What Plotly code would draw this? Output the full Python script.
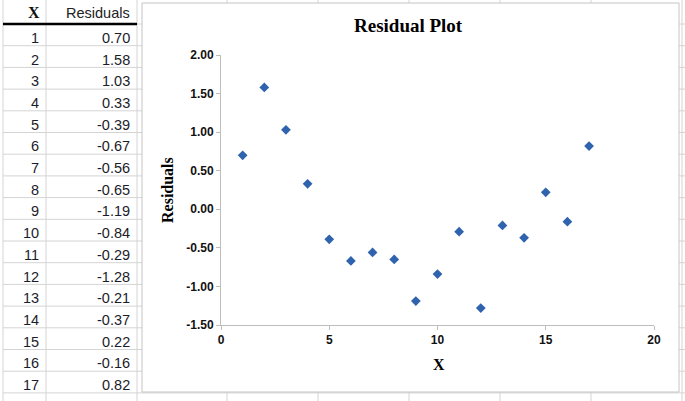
import plotly.graph_objects as go

# ---- data ----
x_values = list(range(1, 18))
residuals = [0.70, 1.58, 1.03, 0.33, -0.39, -0.67, -0.56, -0.65, -1.19,
             -0.84, -0.29, -1.28, -0.21, -0.37, 0.22, -0.16, 0.82]
col_headers = ["X", "Residuals"]
chart_title = "Residual Plot"
x_title = "X"
y_title = "Residuals"
x_ticks = [0, 5, 10, 15, 20]
y_ticks = [-1.5, -1.0, -0.5, 0.0, 0.5, 1.0, 1.5, 2.0]

W, H = 685, 401


def px(x):
    return x / W


def py(y):
    return 1 - y / H


fig = go.Figure()
fig.add_trace(go.Scatter(
    x=x_values, y=residuals, mode="markers",
    marker=dict(symbol="diamond", size=7.5, color="#2F63AE", line=dict(width=0)),
    hoverinfo="x+y", showlegend=False))

shapes = []
annotations = []
grid_col = "#d4d4d4"

# spreadsheet gridlines outside the chart
row_top = 24.0
row_h = 21.7
for k in range(0, 19):
    yy = row_top + k * row_h
    if yy > H:
        break
    shapes.append(dict(type="line", xref="paper", yref="paper", layer="below",
                       x0=px(137), x1=px(W), y0=py(yy), y1=py(yy),
                       line=dict(color=grid_col, width=1)))
for xx in [227, 318, 409, 500, 591, 682]:
    shapes.append(dict(type="line", xref="paper", yref="paper", layer="below",
                       x0=px(xx), x1=px(xx), y0=py(0), y1=py(H),
                       line=dict(color=grid_col, width=1)))

# table gridlines
for k in range(1, 19):
    yy = row_top + k * row_h
    shapes.append(dict(type="line", xref="paper", yref="paper", layer="below",
                       x0=px(3), x1=px(137), y0=py(yy), y1=py(yy),
                       line=dict(color=grid_col, width=1)))
for xx in [3, 46, 137]:
    shapes.append(dict(type="line", xref="paper", yref="paper", layer="below",
                       x0=px(xx), x1=px(xx), y0=py(0), y1=py(H),
                       line=dict(color=grid_col, width=1)))
# thick header underline
shapes.append(dict(type="line", xref="paper", yref="paper", layer="below",
                   x0=px(3), x1=px(137), y0=py(row_top), y1=py(row_top),
                   line=dict(color="#000000", width=2.5)))

# chart area (white box with border)
shapes.append(dict(type="rect", xref="paper", yref="paper", layer="below",
                   x0=px(142), x1=px(679), y0=py(392), y1=py(3),
                   fillcolor="white", line=dict(color="#c4c4c4", width=1)))

# table text
sans = "Liberation Sans, Arial, sans-serif"
serif = "Liberation Serif, Times New Roman, serif"
annotations.append(dict(text="<b>" + col_headers[0] + "</b>", xref="paper", yref="paper",
                        x=px(42), y=py(13), xanchor="right", yanchor="middle",
                        showarrow=False, font=dict(family=serif, size=16, color="#111")))
annotations.append(dict(text=col_headers[1], xref="paper", yref="paper",
                        x=px(132), y=py(13), xanchor="right", yanchor="middle",
                        showarrow=False, font=dict(family=sans, size=14.5, color="#222")))
for i, (xv, rv) in enumerate(zip(x_values, residuals)):
    yc = row_top + (i + 0.5) * row_h + 3
    annotations.append(dict(text=str(xv), xref="paper", yref="paper",
                            x=px(41), y=py(yc), xanchor="right", yanchor="middle",
                            showarrow=False, font=dict(family=sans, size=14.5, color="#1c1c2a")))
    annotations.append(dict(text=f"{rv:.2f}", xref="paper", yref="paper",
                            x=px(132), y=py(yc), xanchor="right", yanchor="middle",
                            showarrow=False, font=dict(family=sans, size=14.5, color="#1c1c2a")))

# chart titles
annotations.append(dict(text="<b>" + chart_title + "</b>", xref="paper", yref="paper",
                        x=px(408), y=py(25), xanchor="center", yanchor="middle",
                        showarrow=False, font=dict(family=serif, size=19, color="#000")))
annotations.append(dict(text="<b>" + y_title + "</b>", xref="paper", yref="paper",
                        x=px(167), y=py(190), xanchor="center", yanchor="middle",
                        textangle=-90, showarrow=False,
                        font=dict(family=serif, size=16, color="#000")))
annotations.append(dict(text="<b>" + x_title + "</b>", xref="paper", yref="paper",
                        x=px(439), y=py(364), xanchor="center", yanchor="middle",
                        showarrow=False, font=dict(family=serif, size=16, color="#000")))

tickfont = dict(family=sans, size=12, color="#111", weight="bold")
axis_col = "#bdbdbd"

fig.update_layout(
    width=W, height=H,
    margin=dict(l=0, r=0, t=0, b=0, pad=0),
    paper_bgcolor="white",
    plot_bgcolor="rgba(0,0,0,0)",
    shapes=shapes,
    annotations=annotations,
    xaxis=dict(domain=[px(221), px(654)], range=[0, 20],
               tickvals=x_ticks, ticktext=[str(v) for v in x_ticks],
               showgrid=False, zeroline=False, showline=True,
               linecolor=axis_col, linewidth=1,
               ticks="outside", ticklen=4, tickcolor=axis_col,
               tickfont=tickfont, anchor="y", automargin=False),
    yaxis=dict(domain=[py(325), py(55)], range=[-1.5, 2.0],
               tickvals=y_ticks, ticktext=[f"{v:.2f}" for v in y_ticks],
               showgrid=False, zeroline=False, showline=True,
               linecolor=axis_col, linewidth=1,
               ticks="outside", ticklen=4, tickcolor=axis_col,
               tickfont=tickfont, anchor="x", automargin=False),
)

fig.write_html("out.html", config={"displayModeBar": False},
               post_script="document.body.style.margin='0';document.body.style.overflow='hidden';")
